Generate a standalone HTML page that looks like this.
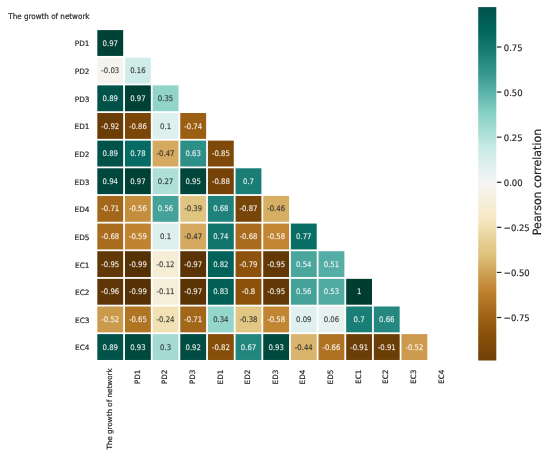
<!DOCTYPE html>
<html><head><meta charset="utf-8"><title>Pearson correlation heatmap</title>
<style>
html,body{margin:0;padding:0;background:#fff;}
body{width:550px;height:457px;overflow:hidden;}
svg{display:block;text-rendering:geometricPrecision;filter:blur(0.35px);font-family:"DejaVu Sans Condensed","DejaVu Sans","Liberation Sans",sans-serif;}
</style></head><body>
<svg width="550" height="457" viewBox="0 0 550 457">
<rect width="550" height="457" fill="#ffffff"/>
<g shape-rendering="geometricPrecision">
<rect x="97.32" y="30.09" width="25.85" height="25.84" fill="#004135"/>
<rect x="97.32" y="57.73" width="25.85" height="25.84" fill="#f5f3ee"/>
<rect x="124.97" y="57.73" width="25.85" height="25.84" fill="#d0ece8"/>
<rect x="97.32" y="85.37" width="25.85" height="25.84" fill="#015349"/>
<rect x="124.97" y="85.37" width="25.85" height="25.84" fill="#004135"/>
<rect x="152.62" y="85.37" width="25.85" height="25.84" fill="#92d4ca"/>
<rect x="97.32" y="113.01" width="25.85" height="25.84" fill="#6a3d07"/>
<rect x="124.97" y="113.01" width="25.85" height="25.84" fill="#794608"/>
<rect x="152.62" y="113.01" width="25.85" height="25.84" fill="#def0ed"/>
<rect x="180.27" y="113.01" width="25.85" height="25.84" fill="#9b5f14"/>
<rect x="97.32" y="140.65" width="25.85" height="25.84" fill="#015349"/>
<rect x="124.97" y="140.65" width="25.85" height="25.84" fill="#066b63"/>
<rect x="152.62" y="140.65" width="25.85" height="25.84" fill="#d3aa5f"/>
<rect x="180.27" y="140.65" width="25.85" height="25.84" fill="#2d8f87"/>
<rect x="207.92" y="140.65" width="25.85" height="25.84" fill="#7e4909"/>
<rect x="97.32" y="168.29" width="25.85" height="25.84" fill="#00483d"/>
<rect x="124.97" y="168.29" width="25.85" height="25.84" fill="#004135"/>
<rect x="152.62" y="168.29" width="25.85" height="25.84" fill="#aee0d8"/>
<rect x="180.27" y="168.29" width="25.85" height="25.84" fill="#00463b"/>
<rect x="207.92" y="168.29" width="25.85" height="25.84" fill="#754308"/>
<rect x="235.57" y="168.29" width="25.85" height="25.84" fill="#1a7e76"/>
<rect x="97.32" y="195.93" width="25.85" height="25.84" fill="#a3671a"/>
<rect x="124.97" y="195.93" width="25.85" height="25.84" fill="#c58e3d"/>
<rect x="152.62" y="195.93" width="25.85" height="25.84" fill="#44a299"/>
<rect x="180.27" y="195.93" width="25.85" height="25.84" fill="#e0c481"/>
<rect x="207.92" y="195.93" width="25.85" height="25.84" fill="#1f827a"/>
<rect x="235.57" y="195.93" width="25.85" height="25.84" fill="#774508"/>
<rect x="263.22" y="195.93" width="25.85" height="25.84" fill="#d6af65"/>
<rect x="97.32" y="223.57" width="25.85" height="25.84" fill="#a96c1e"/>
<rect x="124.97" y="223.57" width="25.85" height="25.84" fill="#c08430"/>
<rect x="152.62" y="223.57" width="25.85" height="25.84" fill="#def0ed"/>
<rect x="180.27" y="223.57" width="25.85" height="25.84" fill="#d3aa5f"/>
<rect x="207.92" y="223.57" width="25.85" height="25.84" fill="#10746c"/>
<rect x="235.57" y="223.57" width="25.85" height="25.84" fill="#a96c1e"/>
<rect x="263.22" y="223.57" width="25.85" height="25.84" fill="#c28633"/>
<rect x="290.87" y="223.57" width="25.85" height="25.84" fill="#086d65"/>
<rect x="97.32" y="251.21" width="25.85" height="25.84" fill="#613806"/>
<rect x="124.97" y="251.21" width="25.85" height="25.84" fill="#563105"/>
<rect x="152.62" y="251.21" width="25.85" height="25.84" fill="#f6edd7"/>
<rect x="180.27" y="251.21" width="25.85" height="25.84" fill="#5b3406"/>
<rect x="207.92" y="251.21" width="25.85" height="25.84" fill="#016259"/>
<rect x="235.57" y="251.21" width="25.85" height="25.84" fill="#8d520b"/>
<rect x="263.22" y="251.21" width="25.85" height="25.84" fill="#613806"/>
<rect x="290.87" y="251.21" width="25.85" height="25.84" fill="#4aa69d"/>
<rect x="318.52" y="251.21" width="25.85" height="25.84" fill="#55aea5"/>
<rect x="97.32" y="278.85" width="25.85" height="25.84" fill="#5f3606"/>
<rect x="124.97" y="278.85" width="25.85" height="25.84" fill="#563105"/>
<rect x="152.62" y="278.85" width="25.85" height="25.84" fill="#f6eed9"/>
<rect x="180.27" y="278.85" width="25.85" height="25.84" fill="#5b3406"/>
<rect x="207.92" y="278.85" width="25.85" height="25.84" fill="#015f56"/>
<rect x="235.57" y="278.85" width="25.85" height="25.84" fill="#8b500a"/>
<rect x="263.22" y="278.85" width="25.85" height="25.84" fill="#613806"/>
<rect x="290.87" y="278.85" width="25.85" height="25.84" fill="#44a299"/>
<rect x="318.52" y="278.85" width="25.85" height="25.84" fill="#4faaa1"/>
<rect x="346.17" y="278.85" width="25.85" height="25.84" fill="#003c30"/>
<rect x="97.32" y="306.49" width="25.85" height="25.84" fill="#cc9a4c"/>
<rect x="124.97" y="306.49" width="25.85" height="25.84" fill="#b17423"/>
<rect x="152.62" y="306.49" width="25.85" height="25.84" fill="#f1e1b5"/>
<rect x="180.27" y="306.49" width="25.85" height="25.84" fill="#a3671a"/>
<rect x="207.92" y="306.49" width="25.85" height="25.84" fill="#95d6cc"/>
<rect x="235.57" y="306.49" width="25.85" height="25.84" fill="#e1c684"/>
<rect x="263.22" y="306.49" width="25.85" height="25.84" fill="#c28633"/>
<rect x="290.87" y="306.49" width="25.85" height="25.84" fill="#e0f0ee"/>
<rect x="318.52" y="306.49" width="25.85" height="25.84" fill="#e7f2f0"/>
<rect x="346.17" y="306.49" width="25.85" height="25.84" fill="#1a7e76"/>
<rect x="373.82" y="306.49" width="25.85" height="25.84" fill="#258880"/>
<rect x="97.32" y="334.13" width="25.85" height="25.84" fill="#015349"/>
<rect x="124.97" y="334.13" width="25.85" height="25.84" fill="#00493e"/>
<rect x="152.62" y="334.13" width="25.85" height="25.84" fill="#a3dbd3"/>
<rect x="180.27" y="334.13" width="25.85" height="25.84" fill="#004c42"/>
<rect x="207.92" y="334.13" width="25.85" height="25.84" fill="#874e0a"/>
<rect x="235.57" y="334.13" width="25.85" height="25.84" fill="#23867e"/>
<rect x="263.22" y="334.13" width="25.85" height="25.84" fill="#00493e"/>
<rect x="290.87" y="334.13" width="25.85" height="25.84" fill="#d8b46c"/>
<rect x="318.52" y="334.13" width="25.85" height="25.84" fill="#af7222"/>
<rect x="346.17" y="334.13" width="25.85" height="25.84" fill="#6c3e07"/>
<rect x="373.82" y="334.13" width="25.85" height="25.84" fill="#6c3e07"/>
<rect x="401.47" y="334.13" width="25.85" height="25.84" fill="#cc9a4c"/>
</g>
<g font-size="7.7" text-anchor="middle" fill-opacity="0.85" stroke-opacity="0.5" stroke-width="0.25">
<text x="110.25" y="46" fill="#ffffff" stroke="#ffffff">0.97</text>
<text x="110.25" y="73" fill="#262626" stroke="#262626">-0.03</text>
<text x="137.89" y="73" fill="#262626" stroke="#262626">0.16</text>
<text x="110.25" y="101" fill="#ffffff" stroke="#ffffff">0.89</text>
<text x="137.89" y="101" fill="#ffffff" stroke="#ffffff">0.97</text>
<text x="165.55" y="101" fill="#262626" stroke="#262626">0.35</text>
<text x="110.25" y="129" fill="#ffffff" stroke="#ffffff">-0.92</text>
<text x="137.89" y="129" fill="#ffffff" stroke="#ffffff">-0.86</text>
<text x="165.55" y="129" fill="#262626" stroke="#262626">0.1</text>
<text x="193.19" y="129" fill="#ffffff" stroke="#ffffff">-0.74</text>
<text x="110.25" y="156" fill="#ffffff" stroke="#ffffff">0.89</text>
<text x="137.89" y="156" fill="#ffffff" stroke="#ffffff">0.78</text>
<text x="165.55" y="156" fill="#262626" stroke="#262626">-0.47</text>
<text x="193.19" y="156" fill="#ffffff" stroke="#ffffff">0.63</text>
<text x="220.84" y="156" fill="#ffffff" stroke="#ffffff">-0.85</text>
<text x="110.25" y="184" fill="#ffffff" stroke="#ffffff">0.94</text>
<text x="137.89" y="184" fill="#ffffff" stroke="#ffffff">0.97</text>
<text x="165.55" y="184" fill="#262626" stroke="#262626">0.27</text>
<text x="193.19" y="184" fill="#ffffff" stroke="#ffffff">0.95</text>
<text x="220.84" y="184" fill="#ffffff" stroke="#ffffff">-0.88</text>
<text x="248.50" y="184" fill="#ffffff" stroke="#ffffff">0.7</text>
<text x="110.25" y="211" fill="#ffffff" stroke="#ffffff">-0.71</text>
<text x="137.89" y="211" fill="#ffffff" stroke="#ffffff">-0.56</text>
<text x="165.55" y="211" fill="#ffffff" stroke="#ffffff">0.56</text>
<text x="193.19" y="211" fill="#262626" stroke="#262626">-0.39</text>
<text x="220.84" y="211" fill="#ffffff" stroke="#ffffff">0.68</text>
<text x="248.50" y="211" fill="#ffffff" stroke="#ffffff">-0.87</text>
<text x="276.14" y="211" fill="#262626" stroke="#262626">-0.46</text>
<text x="110.25" y="239" fill="#ffffff" stroke="#ffffff">-0.68</text>
<text x="137.89" y="239" fill="#ffffff" stroke="#ffffff">-0.59</text>
<text x="165.55" y="239" fill="#262626" stroke="#262626">0.1</text>
<text x="193.19" y="239" fill="#262626" stroke="#262626">-0.47</text>
<text x="220.84" y="239" fill="#ffffff" stroke="#ffffff">0.74</text>
<text x="248.50" y="239" fill="#ffffff" stroke="#ffffff">-0.68</text>
<text x="276.14" y="239" fill="#ffffff" stroke="#ffffff">-0.58</text>
<text x="303.80" y="239" fill="#ffffff" stroke="#ffffff">0.77</text>
<text x="110.25" y="267" fill="#ffffff" stroke="#ffffff">-0.95</text>
<text x="137.89" y="267" fill="#ffffff" stroke="#ffffff">-0.99</text>
<text x="165.55" y="267" fill="#262626" stroke="#262626">-0.12</text>
<text x="193.19" y="267" fill="#ffffff" stroke="#ffffff">-0.97</text>
<text x="220.84" y="267" fill="#ffffff" stroke="#ffffff">0.82</text>
<text x="248.50" y="267" fill="#ffffff" stroke="#ffffff">-0.79</text>
<text x="276.14" y="267" fill="#ffffff" stroke="#ffffff">-0.95</text>
<text x="303.80" y="267" fill="#ffffff" stroke="#ffffff">0.54</text>
<text x="331.44" y="267" fill="#ffffff" stroke="#ffffff">0.51</text>
<text x="110.25" y="294" fill="#ffffff" stroke="#ffffff">-0.96</text>
<text x="137.89" y="294" fill="#ffffff" stroke="#ffffff">-0.99</text>
<text x="165.55" y="294" fill="#262626" stroke="#262626">-0.11</text>
<text x="193.19" y="294" fill="#ffffff" stroke="#ffffff">-0.97</text>
<text x="220.84" y="294" fill="#ffffff" stroke="#ffffff">0.83</text>
<text x="248.50" y="294" fill="#ffffff" stroke="#ffffff">-0.8</text>
<text x="276.14" y="294" fill="#ffffff" stroke="#ffffff">-0.95</text>
<text x="303.80" y="294" fill="#ffffff" stroke="#ffffff">0.56</text>
<text x="331.44" y="294" fill="#ffffff" stroke="#ffffff">0.53</text>
<text x="359.10" y="294" fill="#ffffff" stroke="#ffffff">1</text>
<text x="110.25" y="322" fill="#ffffff" stroke="#ffffff">-0.52</text>
<text x="137.89" y="322" fill="#ffffff" stroke="#ffffff">-0.65</text>
<text x="165.55" y="322" fill="#262626" stroke="#262626">-0.24</text>
<text x="193.19" y="322" fill="#ffffff" stroke="#ffffff">-0.71</text>
<text x="220.84" y="322" fill="#262626" stroke="#262626">0.34</text>
<text x="248.50" y="322" fill="#262626" stroke="#262626">-0.38</text>
<text x="276.14" y="322" fill="#ffffff" stroke="#ffffff">-0.58</text>
<text x="303.80" y="322" fill="#262626" stroke="#262626">0.09</text>
<text x="331.44" y="322" fill="#262626" stroke="#262626">0.06</text>
<text x="359.10" y="322" fill="#ffffff" stroke="#ffffff">0.7</text>
<text x="386.75" y="322" fill="#ffffff" stroke="#ffffff">0.66</text>
<text x="110.25" y="350" fill="#ffffff" stroke="#ffffff">0.89</text>
<text x="137.89" y="350" fill="#ffffff" stroke="#ffffff">0.93</text>
<text x="165.55" y="350" fill="#262626" stroke="#262626">0.3</text>
<text x="193.19" y="350" fill="#ffffff" stroke="#ffffff">0.92</text>
<text x="220.84" y="350" fill="#ffffff" stroke="#ffffff">-0.82</text>
<text x="248.50" y="350" fill="#ffffff" stroke="#ffffff">0.67</text>
<text x="276.14" y="350" fill="#ffffff" stroke="#ffffff">0.93</text>
<text x="303.80" y="350" fill="#262626" stroke="#262626">-0.44</text>
<text x="331.44" y="350" fill="#ffffff" stroke="#ffffff">-0.66</text>
<text x="359.10" y="350" fill="#ffffff" stroke="#ffffff">-0.91</text>
<text x="386.75" y="350" fill="#ffffff" stroke="#ffffff">-0.91</text>
<text x="414.39" y="350" fill="#ffffff" stroke="#ffffff">-0.52</text>
</g>
<g font-family="DejaVu Sans, Liberation Sans, sans-serif" font-size="7.35" text-anchor="end" fill="#262626" stroke="#262626" stroke-width="0.18">
<text font-family="DejaVu Sans Condensed, DejaVu Sans, Liberation Sans, sans-serif" font-size="8.0" x="89.5" y="19" textLength="81.2" lengthAdjust="spacingAndGlyphs">The growth of network</text>
<text x="89.5" y="46">PD1</text>
<text x="89.5" y="74">PD2</text>
<text x="89.5" y="102">PD3</text>
<text x="89.5" y="129">ED1</text>
<text x="89.5" y="157">ED2</text>
<text x="89.5" y="185">ED3</text>
<text x="89.5" y="212">ED4</text>
<text x="89.5" y="240">ED5</text>
<text x="89.5" y="268">EC1</text>
<text x="89.5" y="295">EC2</text>
<text x="89.5" y="323">EC3</text>
<text x="89.5" y="350">EC4</text>
</g>
<g font-family="DejaVu Sans, Liberation Sans, sans-serif" font-size="7.35" text-anchor="end" fill="#262626" stroke="#262626" stroke-width="0.18">
<text font-size="7.2" transform="translate(112.20,368.30) rotate(-90)" textLength="81.3" lengthAdjust="spacingAndGlyphs">The growth of network</text>
<text transform="translate(139.58,369.50) rotate(-90)">PD1</text>
<text transform="translate(167.23,369.50) rotate(-90)">PD2</text>
<text transform="translate(194.88,369.50) rotate(-90)">PD3</text>
<text transform="translate(222.53,369.50) rotate(-90)">ED1</text>
<text transform="translate(250.18,369.50) rotate(-90)">ED2</text>
<text transform="translate(277.83,369.50) rotate(-90)">ED3</text>
<text transform="translate(305.48,369.50) rotate(-90)">ED4</text>
<text transform="translate(333.13,369.50) rotate(-90)">ED5</text>
<text transform="translate(360.78,369.50) rotate(-90)">EC1</text>
<text transform="translate(388.43,369.50) rotate(-90)">EC2</text>
<text transform="translate(416.08,369.50) rotate(-90)">EC3</text>
<text transform="translate(443.73,369.50) rotate(-90)">EC4</text>
</g>
<defs><linearGradient id="cb" x1="0" y1="0" x2="0" y2="1"><stop offset="0.0000" stop-color="#015349"/><stop offset="0.0156" stop-color="#01584f"/><stop offset="0.0312" stop-color="#015b52"/><stop offset="0.0469" stop-color="#016058"/><stop offset="0.0625" stop-color="#01645b"/><stop offset="0.0781" stop-color="#046961"/><stop offset="0.0938" stop-color="#0c7169"/><stop offset="0.1094" stop-color="#12766e"/><stop offset="0.1250" stop-color="#187c74"/><stop offset="0.1406" stop-color="#21847c"/><stop offset="0.1562" stop-color="#278a82"/><stop offset="0.1719" stop-color="#2f9189"/><stop offset="0.1875" stop-color="#35978f"/><stop offset="0.2031" stop-color="#419f97"/><stop offset="0.2188" stop-color="#4da89f"/><stop offset="0.2344" stop-color="#55aea5"/><stop offset="0.2500" stop-color="#61b7ac"/><stop offset="0.2656" stop-color="#6dbfb4"/><stop offset="0.2812" stop-color="#79c8bc"/><stop offset="0.2969" stop-color="#84cfc3"/><stop offset="0.3125" stop-color="#8fd3c9"/><stop offset="0.3281" stop-color="#9ad8ce"/><stop offset="0.3438" stop-color="#a3dbd3"/><stop offset="0.3594" stop-color="#aee0d8"/><stop offset="0.3750" stop-color="#b9e4de"/><stop offset="0.3906" stop-color="#c4e9e4"/><stop offset="0.4062" stop-color="#ccebe7"/><stop offset="0.4219" stop-color="#d4ede9"/><stop offset="0.4375" stop-color="#dbefec"/><stop offset="0.4531" stop-color="#e2f0ee"/><stop offset="0.4688" stop-color="#e9f2f1"/><stop offset="0.4844" stop-color="#f0f4f3"/><stop offset="0.5000" stop-color="#f5f4f2"/><stop offset="0.5156" stop-color="#f5f2ea"/><stop offset="0.5312" stop-color="#f5f1e4"/><stop offset="0.5469" stop-color="#f5efdc"/><stop offset="0.5625" stop-color="#f6edd5"/><stop offset="0.5781" stop-color="#f6ebcd"/><stop offset="0.5938" stop-color="#f6e9c5"/><stop offset="0.6094" stop-color="#f3e4bb"/><stop offset="0.6250" stop-color="#f0deb0"/><stop offset="0.6406" stop-color="#ecd8a5"/><stop offset="0.6562" stop-color="#e8d29a"/><stop offset="0.6719" stop-color="#e5cc8f"/><stop offset="0.6875" stop-color="#e1c684"/><stop offset="0.7031" stop-color="#dec17b"/><stop offset="0.7188" stop-color="#d9b76f"/><stop offset="0.7344" stop-color="#d4ac62"/><stop offset="0.7500" stop-color="#cfa256"/><stop offset="0.7656" stop-color="#ca9849"/><stop offset="0.7812" stop-color="#c79040"/><stop offset="0.7969" stop-color="#c28633"/><stop offset="0.8125" stop-color="#bb7d2a"/><stop offset="0.8281" stop-color="#b57826"/><stop offset="0.8438" stop-color="#ad7021"/><stop offset="0.8594" stop-color="#a76a1d"/><stop offset="0.8750" stop-color="#9f6317"/><stop offset="0.8906" stop-color="#995d13"/><stop offset="0.9062" stop-color="#93580f"/><stop offset="0.9219" stop-color="#8d520b"/><stop offset="0.9375" stop-color="#874e0a"/><stop offset="0.9531" stop-color="#804a09"/><stop offset="0.9688" stop-color="#7c4709"/><stop offset="0.9844" stop-color="#754308"/><stop offset="1.0000" stop-color="#714108"/></linearGradient></defs>
<rect x="478.2" y="7.1" width="18.10" height="353.40" fill="url(#cb)"/>
<g font-size="8.9" fill="#262626" stroke="#262626" stroke-width="0.18">
<line x1="496.9" x2="501.4" y1="47.00" y2="47.00" stroke="#262626" stroke-width="1.2"/>
<text transform="translate(503.8,51) scale(1.06,1)">0.75</text>
<line x1="496.9" x2="501.4" y1="92.08" y2="92.08" stroke="#262626" stroke-width="1.2"/>
<text transform="translate(503.8,96) scale(1.06,1)">0.50</text>
<line x1="496.9" x2="501.4" y1="137.17" y2="137.17" stroke="#262626" stroke-width="1.2"/>
<text transform="translate(503.8,141) scale(1.06,1)">0.25</text>
<line x1="496.9" x2="501.4" y1="182.25" y2="182.25" stroke="#262626" stroke-width="1.2"/>
<text transform="translate(503.8,186) scale(1.06,1)">0.00</text>
<line x1="496.9" x2="501.4" y1="227.33" y2="227.33" stroke="#262626" stroke-width="1.2"/>
<text transform="translate(503.8,231) scale(1.06,1)">−0.25</text>
<line x1="496.9" x2="501.4" y1="272.42" y2="272.42" stroke="#262626" stroke-width="1.2"/>
<text transform="translate(503.8,276) scale(1.06,1)">−0.50</text>
<line x1="496.9" x2="501.4" y1="317.50" y2="317.50" stroke="#262626" stroke-width="1.2"/>
<text transform="translate(503.8,321) scale(1.06,1)">−0.75</text>
</g>
<text font-family="DejaVu Sans, Liberation Sans, sans-serif" font-size="11.4" fill="#262626" stroke="#262626" stroke-width="0.2" text-anchor="middle" transform="translate(541.4,182.0) rotate(-90)" textLength="106.3" lengthAdjust="spacingAndGlyphs">Pearson correlation</text>
</svg>
</body></html>
